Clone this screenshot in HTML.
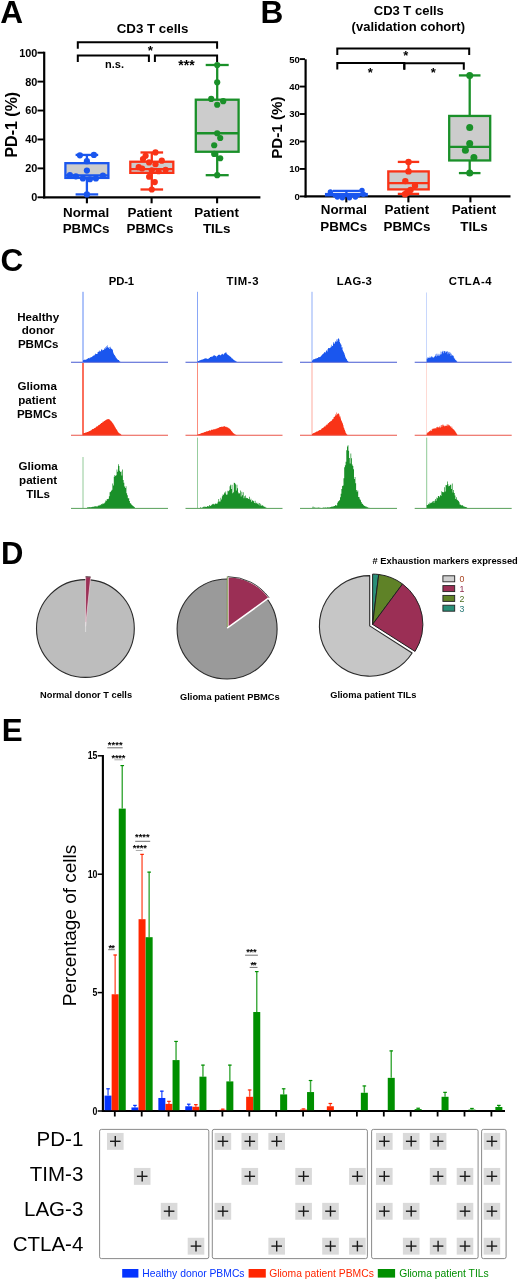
<!DOCTYPE html>
<html lang="en"><head><meta charset="utf-8"><title>Figure</title>
<style>
html,body{margin:0;padding:0;background:#fff;}
body{width:518px;height:1280px;overflow:hidden;font-family:"Liberation Sans",Arial,Helvetica,sans-serif;}
svg{display:block;}
svg text{font-family:"Liberation Sans",Arial,Helvetica,sans-serif;}
</style></head><body>
<svg width="518" height="1280" viewBox="0 0 518 1280">
<rect width="518" height="1280" fill="#fff"/>
<text x="11.60" y="23.00" font-size="31.6" font-weight="bold" text-anchor="middle" fill="#000" >A</text>
<line x1="44.20" y1="51.70" x2="44.20" y2="198.40" stroke="#000" stroke-width="2.2" />
<line x1="43.10" y1="197.30" x2="260.40" y2="197.30" stroke="#000" stroke-width="2.2" />
<line x1="37.50" y1="197.30" x2="44.00" y2="197.30" stroke="#000" stroke-width="1.9" />
<text x="37.30" y="201.20" font-size="10.9" font-weight="bold" text-anchor="end" fill="#000" >0</text>
<line x1="37.50" y1="168.38" x2="44.00" y2="168.38" stroke="#000" stroke-width="1.9" />
<text x="37.30" y="172.28" font-size="10.9" font-weight="bold" text-anchor="end" fill="#000" >20</text>
<line x1="37.50" y1="139.46" x2="44.00" y2="139.46" stroke="#000" stroke-width="1.9" />
<text x="37.30" y="143.36" font-size="10.9" font-weight="bold" text-anchor="end" fill="#000" >40</text>
<line x1="37.50" y1="110.54" x2="44.00" y2="110.54" stroke="#000" stroke-width="1.9" />
<text x="37.30" y="114.44" font-size="10.9" font-weight="bold" text-anchor="end" fill="#000" >60</text>
<line x1="37.50" y1="81.62" x2="44.00" y2="81.62" stroke="#000" stroke-width="1.9" />
<text x="37.30" y="85.52" font-size="10.9" font-weight="bold" text-anchor="end" fill="#000" >80</text>
<line x1="37.50" y1="52.70" x2="44.00" y2="52.70" stroke="#000" stroke-width="1.9" />
<text x="37.30" y="56.60" font-size="10.9" font-weight="bold" text-anchor="end" fill="#000" >100</text>
<line x1="86.90" y1="197.30" x2="86.90" y2="203.30" stroke="#000" stroke-width="2.1" />
<line x1="151.60" y1="197.30" x2="151.60" y2="203.30" stroke="#000" stroke-width="2.1" />
<line x1="217.10" y1="197.30" x2="217.10" y2="203.30" stroke="#000" stroke-width="2.1" />
<text x="152.60" y="33.00" font-size="13.3" font-weight="bold" text-anchor="middle" fill="#000" >CD3 T cells</text>
<text transform="translate(17.4,124.7) rotate(-90)" font-size="16" font-weight="bold" text-anchor="middle">PD-1 (%)</text>
<text x="86.10" y="217.00" font-size="13.4" font-weight="bold" text-anchor="middle" fill="#000" >Normal</text>
<text x="86.10" y="232.80" font-size="13.4" font-weight="bold" text-anchor="middle" fill="#000" >PBMCs</text>
<text x="149.90" y="217.00" font-size="13.4" font-weight="bold" text-anchor="middle" fill="#000" >Patient</text>
<text x="149.90" y="232.80" font-size="13.4" font-weight="bold" text-anchor="middle" fill="#000" >PBMCs</text>
<text x="216.70" y="217.00" font-size="13.4" font-weight="bold" text-anchor="middle" fill="#000" >Patient</text>
<text x="216.70" y="232.80" font-size="13.4" font-weight="bold" text-anchor="middle" fill="#000" >TILs</text>
<path d="M77.80 48.70V42.20H217.10V48.70" fill="none" stroke="#000" stroke-width="2"/>
<path d="M77.80 62.10V55.60H148.90V62.10" fill="none" stroke="#000" stroke-width="2"/>
<path d="M154.90 62.10V55.60H217.10V62.10" fill="none" stroke="#000" stroke-width="2"/>
<text x="150.50" y="54.50" font-size="13.5" font-weight="bold" text-anchor="middle" fill="#000" >*</text>
<text x="114.50" y="67.50" font-size="11" font-weight="bold" text-anchor="middle" fill="#000" >n.s.</text>
<text x="186.50" y="70.00" font-size="14" font-weight="bold" text-anchor="middle" fill="#000" >***</text>
<line x1="86.90" y1="154.93" x2="86.90" y2="163.17" stroke="#1a56ee" stroke-width="2.3" />
<line x1="86.90" y1="177.92" x2="86.90" y2="194.41" stroke="#1a56ee" stroke-width="2.3" />
<line x1="75.60" y1="154.93" x2="98.20" y2="154.93" stroke="#1a56ee" stroke-width="2.3" />
<line x1="75.60" y1="194.41" x2="98.20" y2="194.41" stroke="#1a56ee" stroke-width="2.3" />
<rect x="65.40" y="163.17" width="43.00" height="14.75" fill="#cccccc" stroke="#1a56ee" stroke-width="2.3" />
<line x1="65.40" y1="175.32" x2="108.40" y2="175.32" stroke="#1a56ee" stroke-width="2.3" />
<circle cx="79.90" cy="155.37" r="3.1" fill="#1a56ee"/>
<circle cx="93.90" cy="154.93" r="3.1" fill="#1a56ee"/>
<circle cx="86.90" cy="161.15" r="3.1" fill="#1a56ee"/>
<circle cx="86.90" cy="170.55" r="3.1" fill="#1a56ee"/>
<circle cx="69.90" cy="175.18" r="3.1" fill="#1a56ee"/>
<circle cx="75.90" cy="176.33" r="3.1" fill="#1a56ee"/>
<circle cx="82.90" cy="178.50" r="3.1" fill="#1a56ee"/>
<circle cx="89.90" cy="179.23" r="3.1" fill="#1a56ee"/>
<circle cx="95.90" cy="178.50" r="3.1" fill="#1a56ee"/>
<circle cx="102.90" cy="175.61" r="3.1" fill="#1a56ee"/>
<circle cx="86.90" cy="194.41" r="3.1" fill="#1a56ee"/>
<line x1="151.80" y1="152.47" x2="151.80" y2="161.73" stroke="#f93317" stroke-width="2.3" />
<line x1="151.80" y1="172.86" x2="151.80" y2="189.49" stroke="#f93317" stroke-width="2.3" />
<line x1="140.50" y1="152.47" x2="163.10" y2="152.47" stroke="#f93317" stroke-width="2.3" />
<line x1="140.50" y1="189.49" x2="163.10" y2="189.49" stroke="#f93317" stroke-width="2.3" />
<rect x="130.30" y="161.73" width="43.00" height="11.13" fill="#cccccc" stroke="#f93317" stroke-width="2.3" />
<line x1="130.30" y1="169.10" x2="173.30" y2="169.10" stroke="#f93317" stroke-width="2.3" />
<circle cx="155.50" cy="152.47" r="3.1" fill="#f93317"/>
<circle cx="145.60" cy="155.80" r="3.1" fill="#f93317"/>
<circle cx="143.00" cy="158.98" r="3.1" fill="#f93317"/>
<circle cx="161.80" cy="160.72" r="3.1" fill="#f93317"/>
<circle cx="149.10" cy="162.45" r="3.1" fill="#f93317"/>
<circle cx="155.50" cy="164.19" r="3.1" fill="#f93317"/>
<circle cx="138.70" cy="167.22" r="3.1" fill="#f93317"/>
<circle cx="142.10" cy="168.52" r="3.1" fill="#f93317"/>
<circle cx="151.80" cy="170.26" r="3.1" fill="#f93317"/>
<circle cx="158.60" cy="171.27" r="3.1" fill="#f93317"/>
<circle cx="165.60" cy="169.83" r="3.1" fill="#f93317"/>
<circle cx="149.10" cy="176.77" r="3.1" fill="#f93317"/>
<circle cx="154.80" cy="182.12" r="3.1" fill="#f93317"/>
<circle cx="151.80" cy="189.49" r="3.1" fill="#f93317"/>
<line x1="217.20" y1="64.99" x2="217.20" y2="99.70" stroke="#1a9029" stroke-width="2.3" />
<line x1="217.20" y1="151.75" x2="217.20" y2="175.18" stroke="#1a9029" stroke-width="2.3" />
<line x1="205.70" y1="64.99" x2="228.70" y2="64.99" stroke="#1a9029" stroke-width="2.3" />
<line x1="205.70" y1="175.18" x2="228.70" y2="175.18" stroke="#1a9029" stroke-width="2.3" />
<rect x="195.80" y="99.70" width="42.80" height="52.06" fill="#cccccc" stroke="#1a9029" stroke-width="2.3" />
<line x1="195.80" y1="133.24" x2="238.60" y2="133.24" stroke="#1a9029" stroke-width="2.3" />
<circle cx="217.20" cy="64.99" r="3.1" fill="#1a9029"/>
<circle cx="217.20" cy="82.34" r="3.1" fill="#1a9029"/>
<circle cx="211.20" cy="98.97" r="3.1" fill="#1a9029"/>
<circle cx="223.20" cy="101.14" r="3.1" fill="#1a9029"/>
<circle cx="217.20" cy="104.76" r="3.1" fill="#1a9029"/>
<circle cx="217.20" cy="133.24" r="3.1" fill="#1a9029"/>
<circle cx="220.20" cy="138.01" r="3.1" fill="#1a9029"/>
<circle cx="214.20" cy="145.24" r="3.1" fill="#1a9029"/>
<circle cx="214.20" cy="153.92" r="3.1" fill="#1a9029"/>
<circle cx="220.20" cy="158.26" r="3.1" fill="#1a9029"/>
<circle cx="217.20" cy="175.18" r="3.1" fill="#1a9029"/>
<text x="271.90" y="23.00" font-size="31.6" font-weight="bold" text-anchor="middle" fill="#000" >B</text>
<line x1="305.60" y1="59.30" x2="305.60" y2="197.50" stroke="#000" stroke-width="2.2" />
<line x1="304.50" y1="196.40" x2="510.50" y2="196.40" stroke="#000" stroke-width="2.2" />
<line x1="299.70" y1="196.40" x2="305.00" y2="196.40" stroke="#000" stroke-width="1.9" />
<text x="299.80" y="199.80" font-size="9.5" font-weight="bold" text-anchor="end" fill="#000" >0</text>
<line x1="299.70" y1="168.94" x2="305.00" y2="168.94" stroke="#000" stroke-width="1.9" />
<text x="299.80" y="172.34" font-size="9.5" font-weight="bold" text-anchor="end" fill="#000" >10</text>
<line x1="299.70" y1="141.48" x2="305.00" y2="141.48" stroke="#000" stroke-width="1.9" />
<text x="299.80" y="144.88" font-size="9.5" font-weight="bold" text-anchor="end" fill="#000" >20</text>
<line x1="299.70" y1="114.02" x2="305.00" y2="114.02" stroke="#000" stroke-width="1.9" />
<text x="299.80" y="117.42" font-size="9.5" font-weight="bold" text-anchor="end" fill="#000" >30</text>
<line x1="299.70" y1="86.56" x2="305.00" y2="86.56" stroke="#000" stroke-width="1.9" />
<text x="299.80" y="89.96" font-size="9.5" font-weight="bold" text-anchor="end" fill="#000" >40</text>
<line x1="299.70" y1="59.10" x2="305.00" y2="59.10" stroke="#000" stroke-width="1.9" />
<text x="299.80" y="62.50" font-size="9.5" font-weight="bold" text-anchor="end" fill="#000" >50</text>
<line x1="346.30" y1="196.40" x2="346.30" y2="202.40" stroke="#000" stroke-width="2.1" />
<line x1="408.40" y1="196.40" x2="408.40" y2="202.40" stroke="#000" stroke-width="2.1" />
<line x1="470.40" y1="196.40" x2="470.40" y2="202.40" stroke="#000" stroke-width="2.1" />
<text x="408.80" y="15.00" font-size="13" font-weight="bold" text-anchor="middle" fill="#000" >CD3 T cells</text>
<text x="408.30" y="31.10" font-size="13" font-weight="bold" text-anchor="middle" fill="#000" >(validation cohort)</text>
<text transform="translate(282.2,127.6) rotate(-90)" font-size="15.2" font-weight="bold" text-anchor="middle">PD-1 (%)</text>
<text x="343.80" y="214.20" font-size="13.4" font-weight="bold" text-anchor="middle" fill="#000" >Normal</text>
<text x="343.80" y="230.80" font-size="13.4" font-weight="bold" text-anchor="middle" fill="#000" >PBMCs</text>
<text x="406.90" y="214.20" font-size="13.4" font-weight="bold" text-anchor="middle" fill="#000" >Patient</text>
<text x="406.90" y="230.80" font-size="13.4" font-weight="bold" text-anchor="middle" fill="#000" >PBMCs</text>
<text x="474.00" y="214.20" font-size="13.4" font-weight="bold" text-anchor="middle" fill="#000" >Patient</text>
<text x="474.00" y="230.80" font-size="13.4" font-weight="bold" text-anchor="middle" fill="#000" >TILs</text>
<path d="M337.30 55.10V48.60H469.20V55.10" fill="none" stroke="#000" stroke-width="2"/>
<path d="M337.30 69.50V63.00H404.30V69.50" fill="none" stroke="#000" stroke-width="2"/>
<path d="M404.30 69.80V63.30H463.80V69.80" fill="none" stroke="#000" stroke-width="2"/>
<text x="405.70" y="60.30" font-size="13" font-weight="bold" text-anchor="middle" fill="#000" >*</text>
<text x="370.30" y="76.80" font-size="13" font-weight="bold" text-anchor="middle" fill="#000" >*</text>
<text x="433.20" y="76.50" font-size="13" font-weight="bold" text-anchor="middle" fill="#000" >*</text>
<line x1="346.40" y1="190.91" x2="346.40" y2="194.07" stroke="#1a56ee" stroke-width="2.3" />
<line x1="346.40" y1="195.30" x2="346.40" y2="196.13" stroke="#1a56ee" stroke-width="2.3" />
<line x1="332.90" y1="190.91" x2="359.90" y2="190.91" stroke="#1a56ee" stroke-width="2.3" />
<line x1="332.90" y1="196.13" x2="359.90" y2="196.13" stroke="#1a56ee" stroke-width="2.3" />
<rect x="326.10" y="194.07" width="40.60" height="1.24" fill="#cccccc" stroke="#1a56ee" stroke-width="2.3" />
<line x1="326.10" y1="194.75" x2="366.70" y2="194.75" stroke="#1a56ee" stroke-width="2.3" />
<circle cx="330.40" cy="192.01" r="2.7" fill="#1a56ee"/>
<circle cx="337.40" cy="196.95" r="2.7" fill="#1a56ee"/>
<circle cx="342.40" cy="197.77" r="2.7" fill="#1a56ee"/>
<circle cx="349.40" cy="197.77" r="2.7" fill="#1a56ee"/>
<circle cx="355.40" cy="196.95" r="2.7" fill="#1a56ee"/>
<circle cx="362.00" cy="190.36" r="2.7" fill="#1a56ee"/>
<circle cx="363.40" cy="194.20" r="2.7" fill="#1a56ee"/>
<line x1="408.50" y1="161.91" x2="408.50" y2="171.41" stroke="#f93317" stroke-width="2.3" />
<line x1="408.50" y1="189.40" x2="408.50" y2="193.90" stroke="#f93317" stroke-width="2.3" />
<line x1="397.80" y1="161.91" x2="419.20" y2="161.91" stroke="#f93317" stroke-width="2.3" />
<line x1="397.80" y1="193.90" x2="419.20" y2="193.90" stroke="#f93317" stroke-width="2.3" />
<rect x="388.30" y="171.41" width="40.40" height="17.99" fill="#cccccc" stroke="#f93317" stroke-width="2.3" />
<line x1="388.30" y1="183.11" x2="428.70" y2="183.11" stroke="#f93317" stroke-width="2.3" />
<circle cx="408.50" cy="161.91" r="3.2" fill="#f93317"/>
<circle cx="408.50" cy="171.41" r="3.2" fill="#f93317"/>
<circle cx="405.30" cy="181.10" r="3.2" fill="#f93317"/>
<circle cx="415.00" cy="185.80" r="3.2" fill="#f93317"/>
<circle cx="410.50" cy="189.89" r="3.2" fill="#f93317"/>
<circle cx="406.80" cy="192.99" r="3.2" fill="#f93317"/>
<circle cx="405.00" cy="194.20" r="3.2" fill="#f93317"/>
<line x1="469.70" y1="75.41" x2="469.70" y2="115.94" stroke="#1a9029" stroke-width="2.3" />
<line x1="469.70" y1="160.45" x2="469.70" y2="173.09" stroke="#1a9029" stroke-width="2.3" />
<line x1="458.90" y1="75.41" x2="480.50" y2="75.41" stroke="#1a9029" stroke-width="2.3" />
<line x1="458.90" y1="173.09" x2="480.50" y2="173.09" stroke="#1a9029" stroke-width="2.3" />
<rect x="449.20" y="115.94" width="41.00" height="44.51" fill="#cccccc" stroke="#1a9029" stroke-width="2.3" />
<line x1="449.20" y1="146.81" x2="490.20" y2="146.81" stroke="#1a9029" stroke-width="2.3" />
<circle cx="469.70" cy="75.41" r="3.5" fill="#1a9029"/>
<circle cx="469.70" cy="127.61" r="3.5" fill="#1a9029"/>
<circle cx="469.70" cy="143.40" r="3.5" fill="#1a9029"/>
<circle cx="465.40" cy="150.27" r="3.5" fill="#1a9029"/>
<circle cx="473.90" cy="157.60" r="3.5" fill="#1a9029"/>
<circle cx="469.70" cy="173.09" r="3.5" fill="#1a9029"/>
<text x="11.95" y="270.70" font-size="31.5" font-weight="bold" text-anchor="middle" fill="#000" >C</text>
<text x="121.50" y="285.10" font-size="11.3" font-weight="bold" text-anchor="middle" fill="#000" textLength="25.3" lengthAdjust="spacing">PD-1</text>
<text x="242.50" y="285.10" font-size="11.3" font-weight="bold" text-anchor="middle" fill="#000" textLength="32" lengthAdjust="spacing">TIM-3</text>
<text x="354.30" y="285.10" font-size="11.3" font-weight="bold" text-anchor="middle" fill="#000" textLength="35" lengthAdjust="spacing">LAG-3</text>
<text x="470.10" y="285.10" font-size="11.3" font-weight="bold" text-anchor="middle" fill="#000" textLength="42.7" lengthAdjust="spacing">CTLA-4</text>
<text x="38.20" y="320.50" font-size="11.6" font-weight="bold" text-anchor="middle" fill="#000" >Healthy</text>
<text x="38.20" y="334.40" font-size="11.6" font-weight="bold" text-anchor="middle" fill="#000" >donor</text>
<text x="38.20" y="347.90" font-size="11.6" font-weight="bold" text-anchor="middle" fill="#000" >PBMCs</text>
<text x="37.20" y="390.00" font-size="11.6" font-weight="bold" text-anchor="middle" fill="#000" >Glioma</text>
<text x="37.20" y="403.90" font-size="11.6" font-weight="bold" text-anchor="middle" fill="#000" >patient</text>
<text x="37.20" y="417.50" font-size="11.6" font-weight="bold" text-anchor="middle" fill="#000" >PBMCs</text>
<text x="38.10" y="470.30" font-size="11.6" font-weight="bold" text-anchor="middle" fill="#000" >Glioma</text>
<text x="38.10" y="484.00" font-size="11.6" font-weight="bold" text-anchor="middle" fill="#000" >patient</text>
<text x="38.10" y="498.10" font-size="11.6" font-weight="bold" text-anchor="middle" fill="#000" >TILs</text>
<line x1="83.00" y1="291.80" x2="83.00" y2="362.00" stroke="#1a56ee" stroke-width="1.0" opacity="0.7"/>
<path d="M83.00 362.00L83.00 360.18L83.50 360.18L83.50 359.95L84.00 359.95L84.00 359.78L84.50 359.78L84.50 359.83L85.00 359.83L85.00 359.75L85.50 359.75L85.50 359.73L86.00 359.73L86.00 359.19L86.50 359.19L86.50 359.43L87.00 359.43L87.00 358.78L87.50 358.78L87.50 358.73L88.00 358.73L88.00 358.31L88.50 358.31L88.50 358.05L89.00 358.05L89.00 358.41L89.50 358.41L89.50 357.81L90.00 357.81L90.00 357.76L90.50 357.76L90.50 357.16L91.00 357.16L91.00 357.09L91.50 357.09L91.50 357.31L92.00 357.31L92.00 356.32L92.50 356.32L92.50 356.44L93.00 356.44L93.00 356.12L93.50 356.12L93.50 355.20L94.00 355.20L94.00 355.61L94.50 355.61L94.50 354.77L95.00 354.77L95.00 354.30L95.50 354.30L95.50 353.59L96.00 353.59L96.00 353.91L96.50 353.91L96.50 354.10L97.00 354.10L97.00 353.91L97.50 353.91L97.50 352.27L98.00 352.27L98.00 351.77L98.50 351.77L98.50 351.65L99.00 351.65L99.00 351.56L99.50 351.56L99.50 350.49L100.00 350.49L100.00 351.00L100.50 351.00L100.50 351.58L101.00 351.58L101.00 349.80L101.50 349.80L101.50 349.24L102.00 349.24L102.00 349.83L102.50 349.83L102.50 350.48L103.00 350.48L103.00 349.89L103.50 349.89L103.50 349.65L104.00 349.65L104.00 349.30L104.50 349.30L104.50 348.04L105.00 348.04L105.00 348.73L105.50 348.73L105.50 347.07L106.00 347.07L106.00 346.10L106.50 346.10L106.50 347.69L107.00 347.69L107.00 347.14L107.50 347.14L107.50 345.37L108.00 345.37L108.00 347.59L108.50 347.59L108.50 347.65L109.00 347.65L109.00 346.98L109.50 346.98L109.50 348.96L110.00 348.96L110.00 348.18L110.50 348.18L110.50 346.85L111.00 346.85L111.00 348.42L111.50 348.42L111.50 349.12L112.00 349.12L112.00 349.31L112.50 349.31L112.50 350.35L113.00 350.35L113.00 352.41L113.50 352.41L113.50 353.75L114.00 353.75L114.00 354.84L114.50 354.84L114.50 355.36L115.00 355.36L115.00 356.01L115.50 356.01L115.50 357.16L116.00 357.16L116.00 357.75L116.50 357.75L116.50 358.41L117.00 358.41L117.00 359.04L117.50 359.04L117.50 359.63L118.00 359.63L118.00 360.08L118.50 360.08L118.50 360.08L119.00 360.08L119.00 360.81L119.50 360.81L119.50 361.44L120.00 361.44L120.00 361.78L120.50 361.78L120.50 362.00Z" fill="#1a56ee"/>
<line x1="71.00" y1="362.20" x2="168.00" y2="362.20" stroke="#4559d2" stroke-width="1.15" />
<line x1="83.00" y1="363.00" x2="83.00" y2="435.30" stroke="#f93317" stroke-width="1.4" opacity="1"/>
<path d="M83.00 435.30L83.00 433.29L83.50 433.29L83.50 433.17L84.00 433.17L84.00 433.03L84.50 433.03L84.50 432.89L85.00 432.89L85.00 432.65L85.50 432.65L85.50 432.47L86.00 432.47L86.00 432.45L86.50 432.45L86.50 432.28L87.00 432.28L87.00 432.07L87.50 432.07L87.50 432.01L88.00 432.01L88.00 431.69L88.50 431.69L88.50 431.40L89.00 431.40L89.00 431.13L89.50 431.13L89.50 431.01L90.00 431.01L90.00 430.74L90.50 430.74L90.50 430.53L91.00 430.53L91.00 430.14L91.50 430.14L91.50 429.65L92.00 429.65L92.00 429.32L92.50 429.32L92.50 429.08L93.00 429.08L93.00 429.08L93.50 429.08L93.50 428.81L94.00 428.81L94.00 428.28L94.50 428.28L94.50 427.94L95.00 427.94L95.00 427.70L95.50 427.70L95.50 427.61L96.00 427.61L96.00 426.82L96.50 426.82L96.50 426.55L97.00 426.55L97.00 426.45L97.50 426.45L97.50 425.99L98.00 425.99L98.00 425.28L98.50 425.28L98.50 425.19L99.00 425.19L99.00 424.69L99.50 424.69L99.50 424.70L100.00 424.70L100.00 423.75L100.50 423.75L100.50 423.89L101.00 423.89L101.00 422.94L101.50 422.94L101.50 423.03L102.00 423.03L102.00 422.87L102.50 422.87L102.50 421.77L103.00 421.77L103.00 421.72L103.50 421.72L103.50 421.42L104.00 421.42L104.00 420.77L104.50 420.77L104.50 420.88L105.00 420.88L105.00 420.49L105.50 420.49L105.50 420.11L106.00 420.11L106.00 419.81L106.50 419.81L106.50 419.56L107.00 419.56L107.00 419.21L107.50 419.21L107.50 419.29L108.00 419.29L108.00 419.16L108.50 419.16L108.50 419.11L109.00 419.11L109.00 419.09L109.50 419.09L109.50 419.99L110.00 419.99L110.00 420.40L110.50 420.40L110.50 420.45L111.00 420.45L111.00 421.35L111.50 421.35L111.50 421.68L112.00 421.68L112.00 422.60L112.50 422.60L112.50 423.34L113.00 423.34L113.00 423.78L113.50 423.78L113.50 424.74L114.00 424.74L114.00 425.40L114.50 425.40L114.50 426.41L115.00 426.41L115.00 427.28L115.50 427.28L115.50 428.15L116.00 428.15L116.00 428.93L116.50 428.93L116.50 429.70L117.00 429.70L117.00 430.53L117.50 430.53L117.50 431.41L118.00 431.41L118.00 432.27L118.50 432.27L118.50 432.75L119.00 432.75L119.00 433.15L119.50 433.15L119.50 433.49L120.00 433.49L120.00 433.78L120.50 433.78L120.50 434.23L121.00 434.23L121.00 434.64L121.50 434.64L121.50 434.95L122.00 434.95L122.00 435.30Z" fill="#f93317"/>
<line x1="71.00" y1="435.30" x2="168.00" y2="435.30" stroke="#ea5548" stroke-width="1.1" />
<line x1="83.00" y1="457.00" x2="83.00" y2="508.00" stroke="#1a9029" stroke-width="0.8" opacity="0.6"/>
<path d="M87.20 508.00L87.20 507.30L87.90 507.30L87.90 507.43L88.60 507.43L88.60 507.00L89.30 507.00L89.30 507.33L90.00 507.33L90.00 507.19L90.70 507.19L90.70 507.21L91.40 507.21L91.40 507.08L92.10 507.08L92.10 506.82L92.80 506.82L92.80 507.01L93.50 507.01L93.50 506.54L94.20 506.54L94.20 506.47L94.90 506.47L94.90 506.00L95.60 506.00L95.60 506.67L96.30 506.67L96.30 506.34L97.00 506.34L97.00 506.46L97.70 506.46L97.70 505.84L98.40 505.84L98.40 505.57L99.10 505.57L99.10 505.42L99.80 505.42L99.80 504.79L100.50 504.79L100.50 505.32L101.20 505.32L101.20 504.05L101.90 504.05L101.90 504.25L102.60 504.25L102.60 503.16L103.30 503.16L103.30 503.65L104.00 503.65L104.00 503.37L104.70 503.37L104.70 502.14L105.40 502.14L105.40 500.55L106.10 500.55L106.10 500.72L106.80 500.72L106.80 498.89L107.50 498.89L107.50 499.33L108.20 499.33L108.20 498.63L108.90 498.63L108.90 496.15L109.60 496.15L109.60 492.18L110.30 492.18L110.30 491.66L111.00 491.66L111.00 490.83L111.70 490.83L111.70 489.65L112.40 489.65L112.40 483.47L113.10 483.47L113.10 485.60L113.80 485.60L113.80 476.74L114.50 476.74L114.50 475.02L115.20 475.02L115.20 475.94L115.90 475.94L115.90 475.33L116.60 475.33L116.60 469.57L117.30 469.57L117.30 471.72L118.00 471.72L118.00 464.25L118.70 464.25L118.70 466.02L119.40 466.02L119.40 470.75L120.10 470.75L120.10 471.88L120.80 471.88L120.80 471.38L121.50 471.38L121.50 475.61L122.20 475.61L122.20 469.62L122.90 469.62L122.90 479.90L123.60 479.90L123.60 482.66L124.30 482.66L124.30 486.44L125.00 486.44L125.00 487.89L125.70 487.89L125.70 486.21L126.40 486.21L126.40 493.22L127.10 493.22L127.10 495.18L127.80 495.18L127.80 498.26L128.50 498.26L128.50 498.27L129.20 498.27L129.20 500.97L129.90 500.97L129.90 503.05L130.60 503.05L130.60 503.68L131.30 503.68L131.30 504.84L132.00 504.84L132.00 505.32L132.70 505.32L132.70 505.93L133.40 505.93L133.40 506.51L134.10 506.51L134.10 507.01L134.80 507.01L134.80 507.94L135.50 507.94L135.50 508.00Z" fill="#1a9029"/>
<line x1="71.00" y1="508.40" x2="168.00" y2="508.40" stroke="#58a05a" stroke-width="1.0" />
<line x1="197.50" y1="291.80" x2="197.50" y2="362.00" stroke="#1a56ee" stroke-width="0.8" opacity="0.65"/>
<path d="M197.50 362.00L197.50 361.43L198.00 361.43L198.00 361.10L198.50 361.10L198.50 360.90L199.00 360.90L199.00 360.60L199.50 360.60L199.50 360.39L200.00 360.39L200.00 360.37L200.50 360.37L200.50 360.05L201.00 360.05L201.00 359.78L201.50 359.78L201.50 359.63L202.00 359.63L202.00 359.45L202.50 359.45L202.50 359.54L203.00 359.54L203.00 359.34L203.50 359.34L203.50 359.10L204.00 359.10L204.00 358.80L204.50 358.80L204.50 358.59L205.00 358.59L205.00 358.61L205.50 358.61L205.50 358.16L206.00 358.16L206.00 358.41L206.50 358.41L206.50 358.59L207.00 358.59L207.00 358.68L207.50 358.68L207.50 359.08L208.00 359.08L208.00 358.89L208.50 358.89L208.50 358.31L209.00 358.31L209.00 358.12L209.50 358.12L209.50 357.65L210.00 357.65L210.00 357.09L210.50 357.09L210.50 356.98L211.00 356.98L211.00 357.07L211.50 357.07L211.50 356.49L212.00 356.49L212.00 356.47L212.50 356.47L212.50 356.59L213.00 356.59L213.00 355.76L213.50 355.76L213.50 355.49L214.00 355.49L214.00 355.23L214.50 355.23L214.50 355.50L215.00 355.50L215.00 355.67L215.50 355.67L215.50 355.99L216.00 355.99L216.00 357.20L216.50 357.20L216.50 356.05L217.00 356.05L217.00 355.89L217.50 355.89L217.50 355.42L218.00 355.42L218.00 354.96L218.50 354.96L218.50 354.85L219.00 354.85L219.00 354.54L219.50 354.54L219.50 354.91L220.00 354.91L220.00 355.16L220.50 355.16L220.50 355.15L221.00 355.15L221.00 354.60L221.50 354.60L221.50 354.48L222.00 354.48L222.00 353.86L222.50 353.86L222.50 354.33L223.00 354.33L223.00 354.25L223.50 354.25L223.50 354.74L224.00 354.74L224.00 353.79L224.50 353.79L224.50 352.97L225.00 352.97L225.00 352.46L225.50 352.46L225.50 352.83L226.00 352.83L226.00 352.54L226.50 352.54L226.50 353.67L227.00 353.67L227.00 354.24L227.50 354.24L227.50 354.68L228.00 354.68L228.00 354.96L228.50 354.96L228.50 355.58L229.00 355.58L229.00 355.86L229.50 355.86L229.50 356.29L230.00 356.29L230.00 356.47L230.50 356.47L230.50 357.09L231.00 357.09L231.00 357.49L231.50 357.49L231.50 358.19L232.00 358.19L232.00 358.52L232.50 358.52L232.50 358.87L233.00 358.87L233.00 359.53L233.50 359.53L233.50 359.71L234.00 359.71L234.00 360.18L234.50 360.18L234.50 360.51L235.00 360.51L235.00 360.82L235.50 360.82L235.50 361.17L236.00 361.17L236.00 361.47L236.50 361.47L236.50 361.83L237.00 361.83L237.00 362.00Z" fill="#1a56ee"/>
<line x1="185.50" y1="362.20" x2="282.50" y2="362.20" stroke="#4559d2" stroke-width="1.15" />
<line x1="197.50" y1="363.00" x2="197.50" y2="435.30" stroke="#f93317" stroke-width="0.7" opacity="0.8"/>
<path d="M197.50 435.30L197.50 434.45L198.00 434.45L198.00 434.38L198.50 434.38L198.50 434.01L199.00 434.01L199.00 434.07L199.50 434.07L199.50 433.95L200.00 433.95L200.00 433.76L200.50 433.76L200.50 433.58L201.00 433.58L201.00 433.22L201.50 433.22L201.50 433.09L202.00 433.09L202.00 432.99L202.50 432.99L202.50 432.87L203.00 432.87L203.00 432.82L203.50 432.82L203.50 432.38L204.00 432.38L204.00 432.27L204.50 432.27L204.50 432.05L205.00 432.05L205.00 432.11L205.50 432.11L205.50 431.85L206.00 431.85L206.00 431.37L206.50 431.37L206.50 431.39L207.00 431.39L207.00 431.48L207.50 431.48L207.50 430.94L208.00 430.94L208.00 431.02L208.50 431.02L208.50 430.78L209.00 430.78L209.00 430.40L209.50 430.40L209.50 430.28L210.00 430.28L210.00 430.65L210.50 430.65L210.50 430.15L211.00 430.15L211.00 429.73L211.50 429.73L211.50 429.75L212.00 429.75L212.00 429.77L212.50 429.77L212.50 429.86L213.00 429.86L213.00 429.56L213.50 429.56L213.50 429.23L214.00 429.23L214.00 429.50L214.50 429.50L214.50 428.91L215.00 428.91L215.00 429.30L215.50 429.30L215.50 428.77L216.00 428.77L216.00 428.82L216.50 428.82L216.50 428.56L217.00 428.56L217.00 428.60L217.50 428.60L217.50 427.89L218.00 427.89L218.00 427.72L218.50 427.72L218.50 428.09L219.00 428.09L219.00 427.08L219.50 427.08L219.50 427.58L220.00 427.58L220.00 427.02L220.50 427.02L220.50 426.93L221.00 426.93L221.00 426.52L221.50 426.52L221.50 427.11L222.00 427.11L222.00 426.89L222.50 426.89L222.50 426.55L223.00 426.55L223.00 426.30L223.50 426.30L223.50 426.67L224.00 426.67L224.00 426.14L224.50 426.14L224.50 426.28L225.00 426.28L225.00 426.77L225.50 426.77L225.50 426.63L226.00 426.63L226.00 426.78L226.50 426.78L226.50 427.23L227.00 427.23L227.00 426.90L227.50 426.90L227.50 427.72L228.00 427.72L228.00 427.76L228.50 427.76L228.50 428.21L229.00 428.21L229.00 428.77L229.50 428.77L229.50 428.59L230.00 428.59L230.00 429.29L230.50 429.29L230.50 429.90L231.00 429.90L231.00 430.81L231.50 430.81L231.50 431.27L232.00 431.27L232.00 431.75L232.50 431.75L232.50 432.38L233.00 432.38L233.00 432.99L233.50 432.99L233.50 433.38L234.00 433.38L234.00 433.79L234.50 433.79L234.50 434.30L235.00 434.30L235.00 434.45L235.50 434.45L235.50 434.69L236.00 434.69L236.00 434.93L236.50 434.93L236.50 435.02L237.00 435.02L237.00 435.30L237.50 435.30L237.50 435.30Z" fill="#f93317"/>
<line x1="185.50" y1="435.30" x2="282.50" y2="435.30" stroke="#ea5548" stroke-width="1.1" />
<line x1="197.50" y1="437.60" x2="197.50" y2="508.00" stroke="#1a9029" stroke-width="0.7" opacity="0.65"/>
<path d="M199.50 508.00L199.50 508.00L200.20 508.00L200.20 507.35L200.90 507.35L200.90 507.80L201.60 507.80L201.60 507.90L202.30 507.90L202.30 507.32L203.00 507.32L203.00 506.74L203.70 506.74L203.70 507.34L204.40 507.34L204.40 506.62L205.10 506.62L205.10 506.82L205.80 506.82L205.80 507.06L206.50 507.06L206.50 506.79L207.20 506.79L207.20 506.12L207.90 506.12L207.90 506.37L208.60 506.37L208.60 506.39L209.30 506.39L209.30 504.97L210.00 504.97L210.00 505.96L210.70 505.96L210.70 505.46L211.40 505.46L211.40 504.73L212.10 504.73L212.10 504.16L212.80 504.16L212.80 503.81L213.50 503.81L213.50 504.30L214.20 504.30L214.20 504.59L214.90 504.59L214.90 503.40L215.60 503.40L215.60 503.68L216.30 503.68L216.30 503.64L217.00 503.64L217.00 503.41L217.70 503.41L217.70 501.63L218.40 501.63L218.40 499.05L219.10 499.05L219.10 501.60L219.80 501.60L219.80 501.40L220.50 501.40L220.50 497.84L221.20 497.84L221.20 499.42L221.90 499.42L221.90 496.29L222.60 496.29L222.60 494.48L223.30 494.48L223.30 494.68L224.00 494.68L224.00 492.40L224.70 492.40L224.70 493.43L225.40 493.43L225.40 491.61L226.10 491.61L226.10 494.80L226.80 494.80L226.80 494.51L227.50 494.51L227.50 490.76L228.20 490.76L228.20 491.20L228.90 491.20L228.90 490.20L229.60 490.20L229.60 486.36L230.30 486.36L230.30 484.71L231.00 484.71L231.00 488.89L231.70 488.89L231.70 484.84L232.40 484.84L232.40 493.21L233.10 493.21L233.10 492.27L233.80 492.27L233.80 482.74L234.50 482.74L234.50 483.02L235.20 483.02L235.20 484.16L235.90 484.16L235.90 490.59L236.60 490.59L236.60 484.69L237.30 484.69L237.30 488.21L238.00 488.21L238.00 492.49L238.70 492.49L238.70 493.77L239.40 493.77L239.40 493.00L240.10 493.00L240.10 490.55L240.80 490.55L240.80 496.43L241.50 496.43L241.50 491.87L242.20 491.87L242.20 495.34L242.90 495.34L242.90 492.27L243.60 492.27L243.60 498.34L244.30 498.34L244.30 496.17L245.00 496.17L245.00 495.47L245.70 495.47L245.70 498.32L246.40 498.32L246.40 497.63L247.10 497.63L247.10 498.08L247.80 498.08L247.80 498.80L248.50 498.80L248.50 499.12L249.20 499.12L249.20 496.64L249.90 496.64L249.90 500.08L250.60 500.08L250.60 498.79L251.30 498.79L251.30 501.65L252.00 501.65L252.00 500.29L252.70 500.29L252.70 500.64L253.40 500.64L253.40 501.37L254.10 501.37L254.10 502.95L254.80 502.95L254.80 500.84L255.50 500.84L255.50 503.18L256.20 503.18L256.20 502.79L256.90 502.79L256.90 503.97L257.60 503.97L257.60 502.85L258.30 502.85L258.30 504.57L259.00 504.57L259.00 503.09L259.70 503.09L259.70 505.38L260.40 505.38L260.40 503.84L261.10 503.84L261.10 505.70L261.80 505.70L261.80 505.22L262.50 505.22L262.50 505.48L263.20 505.48L263.20 506.35L263.90 506.35L263.90 506.74L264.60 506.74L264.60 506.81L265.30 506.81L265.30 507.56L266.00 507.56L266.00 507.87L266.70 507.87L266.70 508.00Z" fill="#1a9029"/>
<line x1="185.50" y1="508.40" x2="282.50" y2="508.40" stroke="#58a05a" stroke-width="1.0" />
<line x1="312.00" y1="291.80" x2="312.00" y2="362.00" stroke="#1a56ee" stroke-width="0.7" opacity="0.7"/>
<path d="M312.00 362.00L312.00 360.53L312.50 360.53L312.50 360.17L313.00 360.17L313.00 359.34L313.50 359.34L313.50 359.60L314.00 359.60L314.00 359.18L314.50 359.18L314.50 358.90L315.00 358.90L315.00 358.70L315.50 358.70L315.50 358.56L316.00 358.56L316.00 358.41L316.50 358.41L316.50 358.17L317.00 358.17L317.00 357.99L317.50 357.99L317.50 358.06L318.00 358.06L318.00 357.55L318.50 357.55L318.50 356.88L319.00 356.88L319.00 357.13L319.50 357.13L319.50 356.90L320.00 356.90L320.00 356.82L320.50 356.82L320.50 356.49L321.00 356.49L321.00 355.71L321.50 355.71L321.50 355.13L322.00 355.13L322.00 354.35L322.50 354.35L322.50 354.51L323.00 354.51L323.00 354.01L323.50 354.01L323.50 352.91L324.00 352.91L324.00 352.34L324.50 352.34L324.50 352.17L325.00 352.17L325.00 352.71L325.50 352.71L325.50 351.71L326.00 351.71L326.00 350.64L326.50 350.64L326.50 350.21L327.00 350.21L327.00 351.47L327.50 351.47L327.50 349.31L328.00 349.31L328.00 348.28L328.50 348.28L328.50 347.89L329.00 347.89L329.00 347.88L329.50 347.88L329.50 348.35L330.00 348.35L330.00 346.86L330.50 346.86L330.50 347.88L331.00 347.88L331.00 346.81L331.50 346.81L331.50 344.66L332.00 344.66L332.00 345.95L332.50 345.95L332.50 345.78L333.00 345.78L333.00 343.52L333.50 343.52L333.50 342.10L334.00 342.10L334.00 342.70L334.50 342.70L334.50 344.12L335.00 344.12L335.00 341.91L335.50 341.91L335.50 340.90L336.00 340.90L336.00 339.62L336.50 339.62L336.50 341.77L337.00 341.77L337.00 341.13L337.50 341.13L337.50 339.34L338.00 339.34L338.00 338.38L338.50 338.38L338.50 338.42L339.00 338.42L339.00 339.60L339.50 339.60L339.50 342.12L340.00 342.12L340.00 344.29L340.50 344.29L340.50 343.09L341.00 343.09L341.00 344.68L341.50 344.68L341.50 347.45L342.00 347.45L342.00 347.25L342.50 347.25L342.50 350.24L343.00 350.24L343.00 351.28L343.50 351.28L343.50 352.37L344.00 352.37L344.00 353.30L344.50 353.30L344.50 354.72L345.00 354.72L345.00 356.47L345.50 356.47L345.50 357.69L346.00 357.69L346.00 358.73L346.50 358.73L346.50 359.37L347.00 359.37L347.00 360.51L347.50 360.51L347.50 360.96L348.00 360.96L348.00 361.44L348.50 361.44L348.50 361.92L349.00 361.92L349.00 362.00Z" fill="#1a56ee"/>
<line x1="300.00" y1="362.20" x2="397.00" y2="362.20" stroke="#4559d2" stroke-width="1.15" />
<line x1="312.00" y1="363.00" x2="312.00" y2="435.30" stroke="#f93317" stroke-width="0.7" opacity="0.6"/>
<path d="M312.00 435.30L312.00 434.01L312.50 434.01L312.50 433.58L313.00 433.58L313.00 433.35L313.50 433.35L313.50 433.10L314.00 433.10L314.00 432.87L314.50 432.87L314.50 432.70L315.00 432.70L315.00 432.28L315.50 432.28L315.50 432.20L316.00 432.20L316.00 431.87L316.50 431.87L316.50 431.58L317.00 431.58L317.00 431.48L317.50 431.48L317.50 431.24L318.00 431.24L318.00 430.69L318.50 430.69L318.50 430.76L319.00 430.76L319.00 430.20L319.50 430.20L319.50 429.93L320.00 429.93L320.00 429.95L320.50 429.95L320.50 429.64L321.00 429.64L321.00 429.14L321.50 429.14L321.50 428.57L322.00 428.57L322.00 428.31L322.50 428.31L322.50 428.07L323.00 428.07L323.00 427.54L323.50 427.54L323.50 427.54L324.00 427.54L324.00 426.64L324.50 426.64L324.50 426.33L325.00 426.33L325.00 426.44L325.50 426.44L325.50 425.48L326.00 425.48L326.00 425.16L326.50 425.16L326.50 424.62L327.00 424.62L327.00 424.72L327.50 424.72L327.50 423.82L328.00 423.82L328.00 423.23L328.50 423.23L328.50 422.98L329.00 422.98L329.00 422.19L329.50 422.19L329.50 422.05L330.00 422.05L330.00 421.43L330.50 421.43L330.50 421.34L331.00 421.34L331.00 420.93L331.50 420.93L331.50 420.42L332.00 420.42L332.00 419.78L332.50 419.78L332.50 418.96L333.00 418.96L333.00 418.96L333.50 418.96L333.50 417.14L334.00 417.14L334.00 416.47L334.50 416.47L334.50 417.06L335.00 417.06L335.00 415.84L335.50 415.84L335.50 414.29L336.00 414.29L336.00 415.20L336.50 415.20L336.50 412.60L337.00 412.60L337.00 413.73L337.50 413.73L337.50 414.23L338.00 414.23L338.00 413.00L338.50 413.00L338.50 413.97L339.00 413.97L339.00 414.56L339.50 414.56L339.50 416.48L340.00 416.48L340.00 416.51L340.50 416.51L340.50 418.57L341.00 418.57L341.00 420.36L341.50 420.36L341.50 421.15L342.00 421.15L342.00 422.57L342.50 422.57L342.50 423.45L343.00 423.45L343.00 425.23L343.50 425.23L343.50 427.59L344.00 427.59L344.00 428.58L344.50 428.58L344.50 430.01L345.00 430.01L345.00 431.37L345.50 431.37L345.50 432.70L346.00 432.70L346.00 433.51L346.50 433.51L346.50 434.26L347.00 434.26L347.00 434.70L347.50 434.70L347.50 435.30Z" fill="#f93317"/>
<line x1="300.00" y1="435.30" x2="397.00" y2="435.30" stroke="#ea5548" stroke-width="1.1" />
<path d="M312.00 508.00L312.00 507.76L312.70 507.76L312.70 506.54L313.40 506.54L313.40 507.74L314.10 507.74L314.10 507.54L314.80 507.54L314.80 507.50L315.50 507.50L315.50 507.90L316.20 507.90L316.20 507.72L316.90 507.72L316.90 507.70L317.60 507.70L317.60 507.63L318.30 507.63L318.30 507.59L319.00 507.59L319.00 507.83L319.70 507.83L319.70 507.84L320.40 507.84L320.40 507.98L321.10 507.98L321.10 508.00L321.80 508.00L321.80 507.95L322.50 507.95L322.50 507.74L323.20 507.74L323.20 507.54L323.90 507.54L323.90 507.74L324.60 507.74L324.60 507.51L325.30 507.51L325.30 507.50L326.00 507.50L326.00 507.69L326.70 507.69L326.70 507.41L327.40 507.41L327.40 507.34L328.10 507.34L328.10 507.55L328.80 507.55L328.80 507.33L329.50 507.33L329.50 507.41L330.20 507.41L330.20 507.10L330.90 507.10L330.90 507.08L331.60 507.08L331.60 506.34L332.30 506.34L332.30 506.77L333.00 506.77L333.00 506.42L333.70 506.42L333.70 506.11L334.40 506.11L334.40 506.02L335.10 506.02L335.10 504.96L335.80 504.96L335.80 505.38L336.50 505.38L336.50 505.50L337.20 505.50L337.20 502.69L337.90 502.69L337.90 501.47L338.60 501.47L338.60 500.98L339.30 500.98L339.30 500.01L340.00 500.01L340.00 497.18L340.70 497.18L340.70 493.64L341.40 493.64L341.40 488.93L342.10 488.93L342.10 485.98L342.80 485.98L342.80 485.43L343.50 485.43L343.50 478.14L344.20 478.14L344.20 467.25L344.90 467.25L344.90 465.29L345.60 465.29L345.60 461.72L346.30 461.72L346.30 450.36L347.00 450.36L347.00 446.45L347.70 446.45L347.70 445.14L348.40 445.14L348.40 450.68L349.10 450.68L349.10 457.94L349.80 457.94L349.80 463.47L350.50 463.47L350.50 453.38L351.20 453.38L351.20 458.21L351.90 458.21L351.90 464.56L352.60 464.56L352.60 465.92L353.30 465.92L353.30 469.32L354.00 469.32L354.00 479.09L354.70 479.09L354.70 476.89L355.40 476.89L355.40 483.18L356.10 483.18L356.10 490.07L356.80 490.07L356.80 491.76L357.50 491.76L357.50 490.61L358.20 490.61L358.20 497.04L358.90 497.04L358.90 497.13L359.60 497.13L359.60 499.33L360.30 499.33L360.30 500.23L361.00 500.23L361.00 501.96L361.70 501.96L361.70 503.40L362.40 503.40L362.40 504.01L363.10 504.01L363.10 505.12L363.80 505.12L363.80 505.78L364.50 505.78L364.50 506.04L365.20 506.04L365.20 506.56L365.90 506.56L365.90 506.56L366.60 506.56L366.60 507.21L367.30 507.21L367.30 507.36L368.00 507.36L368.00 507.63L368.70 507.63L368.70 507.75L369.40 507.75L369.40 508.00Z" fill="#1a9029"/>
<line x1="300.00" y1="508.40" x2="397.00" y2="508.40" stroke="#58a05a" stroke-width="1.0" />
<line x1="426.70" y1="292.50" x2="426.70" y2="362.00" stroke="#1a56ee" stroke-width="0.55" opacity="0.55"/>
<path d="M426.70 362.00L426.70 358.43L427.20 358.43L427.20 358.43L427.70 358.43L427.70 357.11L428.20 357.11L428.20 357.77L428.70 357.77L428.70 357.88L429.20 357.88L429.20 357.79L429.70 357.79L429.70 356.57L430.20 356.57L430.20 357.60L430.70 357.60L430.70 357.43L431.20 357.43L431.20 356.46L431.70 356.46L431.70 356.34L432.20 356.34L432.20 357.37L432.70 357.37L432.70 357.18L433.20 357.18L433.20 357.74L433.70 357.74L433.70 357.27L434.20 357.27L434.20 356.81L434.70 356.81L434.70 356.10L435.20 356.10L435.20 355.38L435.70 355.38L435.70 353.89L436.20 353.89L436.20 356.43L436.70 356.43L436.70 353.42L437.20 353.42L437.20 355.75L437.70 355.75L437.70 354.39L438.20 354.39L438.20 355.77L438.70 355.77L438.70 353.73L439.20 353.73L439.20 355.75L439.70 355.75L439.70 354.59L440.20 354.59L440.20 354.45L440.70 354.45L440.70 351.48L441.20 351.48L441.20 354.29L441.70 354.29L441.70 352.32L442.20 352.32L442.20 351.61L442.70 351.61L442.70 350.74L443.20 350.74L443.20 353.30L443.70 353.30L443.70 351.33L444.20 351.33L444.20 351.35L444.70 351.35L444.70 350.89L445.20 350.89L445.20 352.79L445.70 352.79L445.70 351.62L446.20 351.62L446.20 351.82L446.70 351.82L446.70 351.54L447.20 351.54L447.20 351.36L447.70 351.36L447.70 354.23L448.20 354.23L448.20 352.60L448.70 352.60L448.70 351.84L449.20 351.84L449.20 353.76L449.70 353.76L449.70 351.95L450.20 351.95L450.20 353.28L450.70 353.28L450.70 355.98L451.20 355.98L451.20 353.78L451.70 353.78L451.70 355.35L452.20 355.35L452.20 355.56L452.70 355.56L452.70 355.21L453.20 355.21L453.20 356.10L453.70 356.10L453.70 357.57L454.20 357.57L454.20 358.51L454.70 358.51L454.70 358.76L455.20 358.76L455.20 360.00L455.70 360.00L455.70 360.27L456.20 360.27L456.20 360.86L456.70 360.86L456.70 361.50L457.20 361.50L457.20 362.00Z" fill="#1a56ee"/>
<line x1="414.70" y1="362.20" x2="511.70" y2="362.20" stroke="#4559d2" stroke-width="1.15" />
<line x1="426.70" y1="363.00" x2="426.70" y2="435.30" stroke="#f93317" stroke-width="0.5" opacity="0.45"/>
<path d="M426.70 435.30L426.70 433.39L427.20 433.39L427.20 432.68L427.70 432.68L427.70 432.23L428.20 432.23L428.20 432.27L428.70 432.27L428.70 431.79L429.20 431.79L429.20 430.96L429.70 430.96L429.70 431.25L430.20 431.25L430.20 430.05L430.70 430.05L430.70 430.97L431.20 430.97L431.20 430.85L431.70 430.85L431.70 429.15L432.20 429.15L432.20 429.19L432.70 429.19L432.70 428.61L433.20 428.61L433.20 428.81L433.70 428.81L433.70 428.43L434.20 428.43L434.20 428.42L434.70 428.42L434.70 428.14L435.20 428.14L435.20 427.92L435.70 427.92L435.70 428.84L436.20 428.84L436.20 427.16L436.70 427.16L436.70 427.42L437.20 427.42L437.20 426.71L437.70 426.71L437.70 427.27L438.20 427.27L438.20 427.57L438.70 427.57L438.70 427.35L439.20 427.35L439.20 426.24L439.70 426.24L439.70 427.54L440.20 427.54L440.20 427.59L440.70 427.59L440.70 425.41L441.20 425.41L441.20 425.00L441.70 425.00L441.70 427.05L442.20 427.05L442.20 425.26L442.70 425.26L442.70 424.34L443.20 424.34L443.20 425.82L443.70 425.82L443.70 425.04L444.20 425.04L444.20 426.29L444.70 426.29L444.70 426.29L445.20 426.29L445.20 425.75L445.70 425.75L445.70 425.77L446.20 425.77L446.20 426.09L446.70 426.09L446.70 424.48L447.20 424.48L447.20 424.56L447.70 424.56L447.70 426.21L448.20 426.21L448.20 424.51L448.70 424.51L448.70 424.88L449.20 424.88L449.20 425.22L449.70 425.22L449.70 425.88L450.20 425.88L450.20 426.68L450.70 426.68L450.70 426.35L451.20 426.35L451.20 427.96L451.70 427.96L451.70 426.81L452.20 426.81L452.20 428.15L452.70 428.15L452.70 428.91L453.20 428.91L453.20 429.26L453.70 429.26L453.70 429.80L454.20 429.80L454.20 430.22L454.70 430.22L454.70 431.09L455.20 431.09L455.20 431.74L455.70 431.74L455.70 432.49L456.20 432.49L456.20 433.36L456.70 433.36L456.70 434.07L457.20 434.07L457.20 435.30Z" fill="#f93317"/>
<line x1="414.70" y1="435.30" x2="511.70" y2="435.30" stroke="#ea5548" stroke-width="1.1" />
<line x1="426.70" y1="437.60" x2="426.70" y2="508.00" stroke="#1a9029" stroke-width="0.7" opacity="0.7"/>
<path d="M426.70 508.00L426.70 505.05L427.40 505.05L427.40 504.94L428.10 504.94L428.10 503.79L428.80 503.79L428.80 504.15L429.50 504.15L429.50 502.55L430.20 502.55L430.20 503.18L430.90 503.18L430.90 502.77L431.60 502.77L431.60 502.59L432.30 502.59L432.30 501.50L433.00 501.50L433.00 500.91L433.70 500.91L433.70 502.65L434.40 502.65L434.40 500.86L435.10 500.86L435.10 498.91L435.80 498.91L435.80 500.87L436.50 500.87L436.50 497.56L437.20 497.56L437.20 498.18L437.90 498.18L437.90 496.06L438.60 496.06L438.60 496.02L439.30 496.02L439.30 497.24L440.00 497.24L440.00 494.91L440.70 494.91L440.70 495.96L441.40 495.96L441.40 491.31L442.10 491.31L442.10 491.98L442.80 491.98L442.80 492.25L443.50 492.25L443.50 492.21L444.20 492.21L444.20 487.37L444.90 487.37L444.90 491.38L445.60 491.38L445.60 485.07L446.30 485.07L446.30 485.15L447.00 485.15L447.00 481.50L447.70 481.50L447.70 484.17L448.40 484.17L448.40 486.26L449.10 486.26L449.10 485.89L449.80 485.89L449.80 484.64L450.50 484.64L450.50 484.78L451.20 484.78L451.20 488.95L451.90 488.95L451.90 483.62L452.60 483.62L452.60 492.50L453.30 492.50L453.30 489.94L454.00 489.94L454.00 493.00L454.70 493.00L454.70 495.54L455.40 495.54L455.40 498.90L456.10 498.90L456.10 497.31L456.80 497.31L456.80 499.77L457.50 499.77L457.50 500.27L458.20 500.27L458.20 500.95L458.90 500.95L458.90 502.23L459.60 502.23L459.60 504.40L460.30 504.40L460.30 504.86L461.00 504.86L461.00 505.56L461.70 505.56L461.70 504.95L462.40 504.95L462.40 505.53L463.10 505.53L463.10 506.15L463.80 506.15L463.80 506.47L464.50 506.47L464.50 506.66L465.20 506.66L465.20 507.11L465.90 507.11L465.90 507.03L466.60 507.03L466.60 507.70L467.30 507.70L467.30 508.00Z" fill="#1a9029"/>
<line x1="414.70" y1="508.40" x2="511.70" y2="508.40" stroke="#58a05a" stroke-width="1.0" />
<text x="12.20" y="564.40" font-size="31" font-weight="bold" text-anchor="middle" fill="#000" >D</text>
<circle cx="85.4" cy="628.5" r="48.9" fill="#bdbdbd" stroke="#2a2a2a" stroke-width="1.1"/>
<path d="M85.60 626.30L85.60 576.80A49.5 49.5 0 0 1 90.69 577.06Z" fill="#9b2f55" stroke="#e9d6dc" stroke-width="0.7" stroke-linejoin="round"/>
<path d="M85.6 576.8A49.5 49.5 0 0 1 90.69 577.06" fill="none" stroke="#3a2028" stroke-width="0.9"/>
<line x1="85.60" y1="622.00" x2="85.60" y2="632.00" stroke="#e4e4e4" stroke-width="0.8" />
<text x="86.10" y="697.80" font-size="9.25" font-weight="bold" text-anchor="middle" fill="#000" >Normal donor T cells</text>
<circle cx="227.1" cy="629" r="50" fill="#9a9a9a" stroke="#2a2a2a" stroke-width="1.1"/>
<path d="M227.80 627.70L227.80 576.70A51 51 0 0 1 269.06 597.72Z" fill="#9b2f55" stroke="#fff" stroke-width="1.5" stroke-linejoin="round"/>
<path d="M227.8 576.7A51 51 0 0 1 269.06 597.72" fill="none" stroke="#2a2a2a" stroke-width="0.9"/>
<line x1="227.30" y1="576.40" x2="227.30" y2="627.00" stroke="#5f8227" stroke-width="0.8" />
<text x="229.90" y="700.00" font-size="9.3" font-weight="bold" text-anchor="middle" fill="#000" >Glioma patient PBMCs</text>
<path d="M369.70 625.90L412.12 652.93A50.3 50.3 0 1 1 369.70 575.60Z" fill="#c6c6c6" stroke="#2a2a2a" stroke-width="1.1" stroke-linejoin="round"/>
<path d="M372.60 624.40L372.60 574.10A50.3 50.3 0 0 1 378.73 574.47Z" fill="#2a8e78" stroke="#222" stroke-width="1.0" stroke-linejoin="round"/>
<path d="M372.60 624.40L378.73 574.47A50.3 50.3 0 0 1 402.52 583.97Z" fill="#5f8227" stroke="#222" stroke-width="1.0" stroke-linejoin="round"/>
<path d="M372.60 624.40L402.52 583.97A50.3 50.3 0 0 1 415.02 651.43Z" fill="#9b2f55" stroke="#222" stroke-width="1.0" stroke-linejoin="round"/>
<text x="373.30" y="698.00" font-size="9.3" font-weight="bold" text-anchor="middle" fill="#000" >Glioma patient TILs</text>
<text x="445.20" y="564.30" font-size="9.3" font-weight="bold" text-anchor="middle" fill="#000" ># Exhaustion markers expressed</text>
<rect x="442.90" y="575.80" width="11.80" height="6.00" fill="#d0d0d0" stroke="#222" stroke-width="0.9" />
<text x="459.50" y="582.10" font-size="8.8" font-weight="normal" text-anchor="start" fill="#a8431f" >0</text>
<rect x="442.90" y="585.60" width="11.80" height="6.00" fill="#9b2f55" stroke="#222" stroke-width="0.9" />
<text x="459.50" y="591.90" font-size="8.8" font-weight="normal" text-anchor="start" fill="#8e2a4c" >1</text>
<rect x="442.90" y="595.40" width="11.80" height="6.00" fill="#5f8227" stroke="#222" stroke-width="0.9" />
<text x="459.50" y="601.70" font-size="8.8" font-weight="normal" text-anchor="start" fill="#4d6d1f" >2</text>
<rect x="442.90" y="605.20" width="11.80" height="6.00" fill="#2a8e78" stroke="#222" stroke-width="0.9" />
<text x="459.50" y="611.50" font-size="8.8" font-weight="normal" text-anchor="start" fill="#2a7a78" >3</text>
<text x="12.30" y="740.90" font-size="31.3" font-weight="bold" text-anchor="middle" fill="#000" >E</text>
<line x1="102.90" y1="755.00" x2="102.90" y2="1112.00" stroke="#000" stroke-width="2.1" />
<line x1="101.90" y1="1111.00" x2="505.00" y2="1111.00" stroke="#000" stroke-width="2.1" />
<line x1="97.70" y1="1111.00" x2="103.00" y2="1111.00" stroke="#000" stroke-width="1.5" />
<text transform="translate(97.4,1114.60) scale(0.86,1)" font-size="10.2" font-weight="bold" text-anchor="end">0</text>
<line x1="97.70" y1="992.60" x2="103.00" y2="992.60" stroke="#000" stroke-width="1.5" />
<text transform="translate(97.4,996.20) scale(0.86,1)" font-size="10.2" font-weight="bold" text-anchor="end">5</text>
<line x1="97.70" y1="874.20" x2="103.00" y2="874.20" stroke="#000" stroke-width="1.5" />
<text transform="translate(97.4,877.80) scale(0.86,1)" font-size="10.2" font-weight="bold" text-anchor="end">10</text>
<line x1="97.70" y1="755.80" x2="103.00" y2="755.80" stroke="#000" stroke-width="1.5" />
<text transform="translate(97.4,759.40) scale(0.86,1)" font-size="10.2" font-weight="bold" text-anchor="end">15</text>
<text transform="translate(76.3,925.5) rotate(-90)" font-size="19" font-weight="normal" text-anchor="middle">Percentage of cells</text>
<line x1="114.80" y1="1111.00" x2="114.80" y2="1116.50" stroke="#000" stroke-width="1.8" />
<rect x="104.55" y="1095.61" width="7.00" height="14.59" fill="#0433ff" stroke="none" stroke-width="0" />
<line x1="108.05" y1="1088.50" x2="108.05" y2="1095.61" stroke="#0433ff" stroke-width="1.45" opacity="0.75"/>
<line x1="106.25" y1="1088.80" x2="109.85" y2="1088.80" stroke="#0433ff" stroke-width="1.2" />
<rect x="111.65" y="994.26" width="7.00" height="115.94" fill="#ff2600" stroke="none" stroke-width="0" />
<line x1="115.15" y1="954.71" x2="115.15" y2="994.26" stroke="#ff2600" stroke-width="1.45" opacity="0.75"/>
<line x1="113.35" y1="955.01" x2="116.95" y2="955.01" stroke="#ff2600" stroke-width="1.2" />
<rect x="118.75" y="808.61" width="7.00" height="301.59" fill="#008f00" stroke="none" stroke-width="0" />
<line x1="122.25" y1="765.27" x2="122.25" y2="808.61" stroke="#008f00" stroke-width="1.45" opacity="0.75"/>
<line x1="120.45" y1="765.57" x2="124.05" y2="765.57" stroke="#008f00" stroke-width="1.2" />
<line x1="141.70" y1="1111.00" x2="141.70" y2="1116.50" stroke="#000" stroke-width="1.8" />
<rect x="131.45" y="1107.45" width="7.00" height="2.75" fill="#0433ff" stroke="none" stroke-width="0" />
<line x1="134.95" y1="1105.08" x2="134.95" y2="1107.45" stroke="#0433ff" stroke-width="1.45" opacity="0.75"/>
<line x1="133.15" y1="1105.38" x2="136.75" y2="1105.38" stroke="#0433ff" stroke-width="1.2" />
<rect x="138.55" y="919.19" width="7.00" height="191.01" fill="#ff2600" stroke="none" stroke-width="0" />
<line x1="142.05" y1="854.07" x2="142.05" y2="919.19" stroke="#ff2600" stroke-width="1.45" opacity="0.75"/>
<line x1="140.25" y1="854.37" x2="143.85" y2="854.37" stroke="#ff2600" stroke-width="1.2" />
<rect x="145.65" y="937.19" width="7.00" height="173.01" fill="#008f00" stroke="none" stroke-width="0" />
<line x1="149.15" y1="871.83" x2="149.15" y2="937.19" stroke="#008f00" stroke-width="1.45" opacity="0.75"/>
<line x1="147.35" y1="872.13" x2="150.95" y2="872.13" stroke="#008f00" stroke-width="1.2" />
<line x1="168.60" y1="1111.00" x2="168.60" y2="1116.50" stroke="#000" stroke-width="1.8" />
<rect x="158.35" y="1097.98" width="7.00" height="12.22" fill="#0433ff" stroke="none" stroke-width="0" />
<line x1="161.85" y1="1090.87" x2="161.85" y2="1097.98" stroke="#0433ff" stroke-width="1.45" opacity="0.75"/>
<line x1="160.05" y1="1091.17" x2="163.65" y2="1091.17" stroke="#0433ff" stroke-width="1.2" />
<rect x="165.45" y="1103.90" width="7.00" height="6.30" fill="#ff2600" stroke="none" stroke-width="0" />
<line x1="168.95" y1="1101.05" x2="168.95" y2="1103.90" stroke="#ff2600" stroke-width="1.45" opacity="0.75"/>
<line x1="167.15" y1="1101.35" x2="170.75" y2="1101.35" stroke="#ff2600" stroke-width="1.2" />
<rect x="172.55" y="1060.09" width="7.00" height="50.11" fill="#008f00" stroke="none" stroke-width="0" />
<line x1="176.05" y1="1041.14" x2="176.05" y2="1060.09" stroke="#008f00" stroke-width="1.45" opacity="0.75"/>
<line x1="174.25" y1="1041.44" x2="177.85" y2="1041.44" stroke="#008f00" stroke-width="1.2" />
<line x1="195.50" y1="1111.00" x2="195.50" y2="1116.50" stroke="#000" stroke-width="1.8" />
<rect x="185.25" y="1106.26" width="7.00" height="3.94" fill="#0433ff" stroke="none" stroke-width="0" />
<line x1="188.75" y1="1103.90" x2="188.75" y2="1106.26" stroke="#0433ff" stroke-width="1.45" opacity="0.75"/>
<line x1="186.95" y1="1104.20" x2="190.55" y2="1104.20" stroke="#0433ff" stroke-width="1.2" />
<rect x="192.35" y="1106.74" width="7.00" height="3.46" fill="#ff2600" stroke="none" stroke-width="0" />
<line x1="195.85" y1="1104.37" x2="195.85" y2="1106.74" stroke="#ff2600" stroke-width="1.45" opacity="0.75"/>
<line x1="194.05" y1="1104.67" x2="197.65" y2="1104.67" stroke="#ff2600" stroke-width="1.2" />
<rect x="199.45" y="1076.66" width="7.00" height="33.54" fill="#008f00" stroke="none" stroke-width="0" />
<line x1="202.95" y1="1064.82" x2="202.95" y2="1076.66" stroke="#008f00" stroke-width="1.45" opacity="0.75"/>
<line x1="201.15" y1="1065.12" x2="204.75" y2="1065.12" stroke="#008f00" stroke-width="1.2" />
<line x1="222.40" y1="1111.00" x2="222.40" y2="1116.50" stroke="#000" stroke-width="1.8" />
<rect x="212.15" y="1110.29" width="7.00" height="-0.09" fill="#0433ff" stroke="none" stroke-width="0" />
<rect x="219.25" y="1109.82" width="7.00" height="0.38" fill="#ff2600" stroke="none" stroke-width="0" />
<line x1="222.75" y1="1108.87" x2="222.75" y2="1109.82" stroke="#ff2600" stroke-width="1.45" opacity="0.75"/>
<line x1="220.95" y1="1109.17" x2="224.55" y2="1109.17" stroke="#ff2600" stroke-width="1.2" />
<rect x="226.35" y="1081.40" width="7.00" height="28.80" fill="#008f00" stroke="none" stroke-width="0" />
<line x1="229.85" y1="1064.82" x2="229.85" y2="1081.40" stroke="#008f00" stroke-width="1.45" opacity="0.75"/>
<line x1="228.05" y1="1065.12" x2="231.65" y2="1065.12" stroke="#008f00" stroke-width="1.2" />
<line x1="249.30" y1="1111.00" x2="249.30" y2="1116.50" stroke="#000" stroke-width="1.8" />
<rect x="239.05" y="1110.29" width="7.00" height="-0.09" fill="#0433ff" stroke="none" stroke-width="0" />
<rect x="246.15" y="1096.79" width="7.00" height="13.41" fill="#ff2600" stroke="none" stroke-width="0" />
<line x1="249.65" y1="1089.69" x2="249.65" y2="1096.79" stroke="#ff2600" stroke-width="1.45" opacity="0.75"/>
<line x1="247.85" y1="1089.99" x2="251.45" y2="1089.99" stroke="#ff2600" stroke-width="1.2" />
<rect x="253.25" y="1012.02" width="7.00" height="98.18" fill="#008f00" stroke="none" stroke-width="0" />
<line x1="256.75" y1="971.29" x2="256.75" y2="1012.02" stroke="#008f00" stroke-width="1.45" opacity="0.75"/>
<line x1="254.95" y1="971.59" x2="258.55" y2="971.59" stroke="#008f00" stroke-width="1.2" />
<line x1="276.20" y1="1111.00" x2="276.20" y2="1116.50" stroke="#000" stroke-width="1.8" />
<rect x="273.05" y="1110.29" width="7.00" height="-0.09" fill="#ff2600" stroke="none" stroke-width="0" />
<rect x="280.15" y="1094.42" width="7.00" height="15.78" fill="#008f00" stroke="none" stroke-width="0" />
<line x1="283.65" y1="1088.50" x2="283.65" y2="1094.42" stroke="#008f00" stroke-width="1.45" opacity="0.75"/>
<line x1="281.85" y1="1088.80" x2="285.45" y2="1088.80" stroke="#008f00" stroke-width="1.2" />
<line x1="303.10" y1="1111.00" x2="303.10" y2="1116.50" stroke="#000" stroke-width="1.8" />
<rect x="299.95" y="1109.58" width="7.00" height="0.62" fill="#ff2600" stroke="none" stroke-width="0" />
<line x1="303.45" y1="1108.63" x2="303.45" y2="1109.58" stroke="#ff2600" stroke-width="1.45" opacity="0.75"/>
<line x1="301.65" y1="1108.93" x2="305.25" y2="1108.93" stroke="#ff2600" stroke-width="1.2" />
<rect x="307.05" y="1092.06" width="7.00" height="18.14" fill="#008f00" stroke="none" stroke-width="0" />
<line x1="310.55" y1="1080.22" x2="310.55" y2="1092.06" stroke="#008f00" stroke-width="1.45" opacity="0.75"/>
<line x1="308.75" y1="1080.52" x2="312.35" y2="1080.52" stroke="#008f00" stroke-width="1.2" />
<line x1="330.00" y1="1111.00" x2="330.00" y2="1116.50" stroke="#000" stroke-width="1.8" />
<rect x="326.85" y="1106.26" width="7.00" height="3.94" fill="#ff2600" stroke="none" stroke-width="0" />
<line x1="330.35" y1="1103.19" x2="330.35" y2="1106.26" stroke="#ff2600" stroke-width="1.45" opacity="0.75"/>
<line x1="328.55" y1="1103.49" x2="332.15" y2="1103.49" stroke="#ff2600" stroke-width="1.2" />
<line x1="356.90" y1="1111.00" x2="356.90" y2="1116.50" stroke="#000" stroke-width="1.8" />
<rect x="353.75" y="1110.29" width="7.00" height="-0.09" fill="#ff2600" stroke="none" stroke-width="0" />
<rect x="360.85" y="1092.77" width="7.00" height="17.43" fill="#008f00" stroke="none" stroke-width="0" />
<line x1="364.35" y1="1085.66" x2="364.35" y2="1092.77" stroke="#008f00" stroke-width="1.45" opacity="0.75"/>
<line x1="362.55" y1="1085.96" x2="366.15" y2="1085.96" stroke="#008f00" stroke-width="1.2" />
<line x1="383.80" y1="1111.00" x2="383.80" y2="1116.50" stroke="#000" stroke-width="1.8" />
<rect x="380.65" y="1110.29" width="7.00" height="-0.09" fill="#ff2600" stroke="none" stroke-width="0" />
<rect x="387.75" y="1077.85" width="7.00" height="32.35" fill="#008f00" stroke="none" stroke-width="0" />
<line x1="391.25" y1="1050.62" x2="391.25" y2="1077.85" stroke="#008f00" stroke-width="1.45" opacity="0.75"/>
<line x1="389.45" y1="1050.92" x2="393.05" y2="1050.92" stroke="#008f00" stroke-width="1.2" />
<line x1="410.70" y1="1111.00" x2="410.70" y2="1116.50" stroke="#000" stroke-width="1.8" />
<rect x="414.65" y="1109.11" width="7.00" height="1.09" fill="#008f00" stroke="none" stroke-width="0" />
<line x1="418.15" y1="1107.92" x2="418.15" y2="1109.11" stroke="#008f00" stroke-width="1.45" opacity="0.75"/>
<line x1="416.35" y1="1108.22" x2="419.95" y2="1108.22" stroke="#008f00" stroke-width="1.2" />
<line x1="437.60" y1="1111.00" x2="437.60" y2="1116.50" stroke="#000" stroke-width="1.8" />
<rect x="434.45" y="1110.29" width="7.00" height="-0.09" fill="#ff2600" stroke="none" stroke-width="0" />
<rect x="441.55" y="1096.79" width="7.00" height="13.41" fill="#008f00" stroke="none" stroke-width="0" />
<line x1="445.05" y1="1092.06" x2="445.05" y2="1096.79" stroke="#008f00" stroke-width="1.45" opacity="0.75"/>
<line x1="443.25" y1="1092.36" x2="446.85" y2="1092.36" stroke="#008f00" stroke-width="1.2" />
<line x1="464.50" y1="1111.00" x2="464.50" y2="1116.50" stroke="#000" stroke-width="1.8" />
<rect x="468.45" y="1109.58" width="7.00" height="0.62" fill="#008f00" stroke="none" stroke-width="0" />
<line x1="471.95" y1="1108.16" x2="471.95" y2="1109.58" stroke="#008f00" stroke-width="1.45" opacity="0.75"/>
<line x1="470.15" y1="1108.46" x2="473.75" y2="1108.46" stroke="#008f00" stroke-width="1.2" />
<line x1="491.40" y1="1111.00" x2="491.40" y2="1116.50" stroke="#000" stroke-width="1.8" />
<rect x="495.35" y="1106.97" width="7.00" height="3.23" fill="#008f00" stroke="none" stroke-width="0" />
<line x1="498.85" y1="1105.08" x2="498.85" y2="1106.97" stroke="#008f00" stroke-width="1.45" opacity="0.75"/>
<line x1="497.05" y1="1105.38" x2="500.65" y2="1105.38" stroke="#008f00" stroke-width="1.2" />
<text x="115.10" y="748.30" font-size="9.3" font-weight="bold" text-anchor="middle" fill="#000" textLength="14.8" lengthAdjust="spacing">****</text>
<line x1="107.30" y1="747.80" x2="122.70" y2="747.80" stroke="#333" stroke-width="0.7" />
<text x="118.40" y="761.30" font-size="9.3" font-weight="bold" text-anchor="middle" fill="#000" textLength="13.8" lengthAdjust="spacing">****</text>
<line x1="114.40" y1="759.80" x2="122.70" y2="759.80" stroke="#888" stroke-width="0.7" />
<text x="142.30" y="839.70" font-size="9.3" font-weight="bold" text-anchor="middle" fill="#000" textLength="14.4" lengthAdjust="spacing">****</text>
<line x1="135.20" y1="841.30" x2="150.20" y2="841.30" stroke="#333" stroke-width="0.7" />
<text x="139.70" y="851.30" font-size="9.3" font-weight="bold" text-anchor="middle" fill="#000" textLength="14.1" lengthAdjust="spacing">****</text>
<line x1="135.80" y1="850.50" x2="142.50" y2="850.50" stroke="#888" stroke-width="0.7" />
<text x="111.70" y="950.50" font-size="9.3" font-weight="bold" text-anchor="middle" fill="#000" textLength="6.4" lengthAdjust="spacing">**</text>
<line x1="108.20" y1="949.70" x2="114.80" y2="949.70" stroke="#333" stroke-width="0.7" />
<text x="251.40" y="955.20" font-size="9.3" font-weight="bold" text-anchor="middle" fill="#000" textLength="10.2" lengthAdjust="spacing">***</text>
<line x1="245.10" y1="955.20" x2="257.90" y2="955.20" stroke="#333" stroke-width="0.7" />
<text x="253.50" y="968.00" font-size="9.3" font-weight="bold" text-anchor="middle" fill="#000" textLength="6.2" lengthAdjust="spacing">**</text>
<line x1="249.70" y1="967.40" x2="257.50" y2="967.40" stroke="#333" stroke-width="0.7" />
<text x="83.30" y="1146.40" font-size="20.5" font-weight="normal" text-anchor="end" fill="#000" >PD-1</text>
<text x="83.30" y="1181.40" font-size="20.5" font-weight="normal" text-anchor="end" fill="#000" >TIM-3</text>
<text x="83.30" y="1216.30" font-size="20.5" font-weight="normal" text-anchor="end" fill="#000" >LAG-3</text>
<text x="83.30" y="1251.20" font-size="20.5" font-weight="normal" text-anchor="end" fill="#000" >CTLA-4</text>
<rect x="99.60" y="1129.40" width="109.20" height="129.20" fill="#fff" stroke="#7d7d7d" stroke-width="0.9" rx="1.8"/>
<rect x="212.30" y="1129.40" width="155.10" height="129.20" fill="#fff" stroke="#7d7d7d" stroke-width="0.9" rx="1.8"/>
<rect x="371.60" y="1129.40" width="106.50" height="129.20" fill="#fff" stroke="#7d7d7d" stroke-width="0.9" rx="1.8"/>
<rect x="481.60" y="1129.40" width="24.50" height="129.20" fill="#fff" stroke="#7d7d7d" stroke-width="0.9" rx="1.8"/>
<rect x="107.00" y="1132.95" width="16.60" height="16.90" fill="#dadada" stroke="none" stroke-width="0" />
<line x1="110.00" y1="1141.30" x2="120.60" y2="1141.30" stroke="#1a1a1a" stroke-width="1.4" />
<line x1="115.30" y1="1136.00" x2="115.30" y2="1146.60" stroke="#1a1a1a" stroke-width="1.4" />
<rect x="133.90" y="1167.95" width="16.60" height="16.90" fill="#dadada" stroke="none" stroke-width="0" />
<line x1="136.90" y1="1176.30" x2="147.50" y2="1176.30" stroke="#1a1a1a" stroke-width="1.4" />
<line x1="142.20" y1="1171.00" x2="142.20" y2="1181.60" stroke="#1a1a1a" stroke-width="1.4" />
<rect x="160.80" y="1202.85" width="16.60" height="16.90" fill="#dadada" stroke="none" stroke-width="0" />
<line x1="163.80" y1="1211.20" x2="174.40" y2="1211.20" stroke="#1a1a1a" stroke-width="1.4" />
<line x1="169.10" y1="1205.90" x2="169.10" y2="1216.50" stroke="#1a1a1a" stroke-width="1.4" />
<rect x="187.70" y="1237.75" width="16.60" height="16.90" fill="#dadada" stroke="none" stroke-width="0" />
<line x1="190.70" y1="1246.10" x2="201.30" y2="1246.10" stroke="#1a1a1a" stroke-width="1.4" />
<line x1="196.00" y1="1240.80" x2="196.00" y2="1251.40" stroke="#1a1a1a" stroke-width="1.4" />
<rect x="214.60" y="1132.95" width="16.60" height="16.90" fill="#dadada" stroke="none" stroke-width="0" />
<line x1="217.60" y1="1141.30" x2="228.20" y2="1141.30" stroke="#1a1a1a" stroke-width="1.4" />
<line x1="222.90" y1="1136.00" x2="222.90" y2="1146.60" stroke="#1a1a1a" stroke-width="1.4" />
<rect x="214.60" y="1202.85" width="16.60" height="16.90" fill="#dadada" stroke="none" stroke-width="0" />
<line x1="217.60" y1="1211.20" x2="228.20" y2="1211.20" stroke="#1a1a1a" stroke-width="1.4" />
<line x1="222.90" y1="1205.90" x2="222.90" y2="1216.50" stroke="#1a1a1a" stroke-width="1.4" />
<rect x="241.50" y="1132.95" width="16.60" height="16.90" fill="#dadada" stroke="none" stroke-width="0" />
<line x1="244.50" y1="1141.30" x2="255.10" y2="1141.30" stroke="#1a1a1a" stroke-width="1.4" />
<line x1="249.80" y1="1136.00" x2="249.80" y2="1146.60" stroke="#1a1a1a" stroke-width="1.4" />
<rect x="241.50" y="1167.95" width="16.60" height="16.90" fill="#dadada" stroke="none" stroke-width="0" />
<line x1="244.50" y1="1176.30" x2="255.10" y2="1176.30" stroke="#1a1a1a" stroke-width="1.4" />
<line x1="249.80" y1="1171.00" x2="249.80" y2="1181.60" stroke="#1a1a1a" stroke-width="1.4" />
<rect x="268.40" y="1132.95" width="16.60" height="16.90" fill="#dadada" stroke="none" stroke-width="0" />
<line x1="271.40" y1="1141.30" x2="282.00" y2="1141.30" stroke="#1a1a1a" stroke-width="1.4" />
<line x1="276.70" y1="1136.00" x2="276.70" y2="1146.60" stroke="#1a1a1a" stroke-width="1.4" />
<rect x="268.40" y="1237.75" width="16.60" height="16.90" fill="#dadada" stroke="none" stroke-width="0" />
<line x1="271.40" y1="1246.10" x2="282.00" y2="1246.10" stroke="#1a1a1a" stroke-width="1.4" />
<line x1="276.70" y1="1240.80" x2="276.70" y2="1251.40" stroke="#1a1a1a" stroke-width="1.4" />
<rect x="295.30" y="1167.95" width="16.60" height="16.90" fill="#dadada" stroke="none" stroke-width="0" />
<line x1="298.30" y1="1176.30" x2="308.90" y2="1176.30" stroke="#1a1a1a" stroke-width="1.4" />
<line x1="303.60" y1="1171.00" x2="303.60" y2="1181.60" stroke="#1a1a1a" stroke-width="1.4" />
<rect x="295.30" y="1202.85" width="16.60" height="16.90" fill="#dadada" stroke="none" stroke-width="0" />
<line x1="298.30" y1="1211.20" x2="308.90" y2="1211.20" stroke="#1a1a1a" stroke-width="1.4" />
<line x1="303.60" y1="1205.90" x2="303.60" y2="1216.50" stroke="#1a1a1a" stroke-width="1.4" />
<rect x="322.20" y="1202.85" width="16.60" height="16.90" fill="#dadada" stroke="none" stroke-width="0" />
<line x1="325.20" y1="1211.20" x2="335.80" y2="1211.20" stroke="#1a1a1a" stroke-width="1.4" />
<line x1="330.50" y1="1205.90" x2="330.50" y2="1216.50" stroke="#1a1a1a" stroke-width="1.4" />
<rect x="322.20" y="1237.75" width="16.60" height="16.90" fill="#dadada" stroke="none" stroke-width="0" />
<line x1="325.20" y1="1246.10" x2="335.80" y2="1246.10" stroke="#1a1a1a" stroke-width="1.4" />
<line x1="330.50" y1="1240.80" x2="330.50" y2="1251.40" stroke="#1a1a1a" stroke-width="1.4" />
<rect x="349.10" y="1167.95" width="16.60" height="16.90" fill="#dadada" stroke="none" stroke-width="0" />
<line x1="352.10" y1="1176.30" x2="362.70" y2="1176.30" stroke="#1a1a1a" stroke-width="1.4" />
<line x1="357.40" y1="1171.00" x2="357.40" y2="1181.60" stroke="#1a1a1a" stroke-width="1.4" />
<rect x="349.10" y="1237.75" width="16.60" height="16.90" fill="#dadada" stroke="none" stroke-width="0" />
<line x1="352.10" y1="1246.10" x2="362.70" y2="1246.10" stroke="#1a1a1a" stroke-width="1.4" />
<line x1="357.40" y1="1240.80" x2="357.40" y2="1251.40" stroke="#1a1a1a" stroke-width="1.4" />
<rect x="376.00" y="1132.95" width="16.60" height="16.90" fill="#dadada" stroke="none" stroke-width="0" />
<line x1="379.00" y1="1141.30" x2="389.60" y2="1141.30" stroke="#1a1a1a" stroke-width="1.4" />
<line x1="384.30" y1="1136.00" x2="384.30" y2="1146.60" stroke="#1a1a1a" stroke-width="1.4" />
<rect x="376.00" y="1167.95" width="16.60" height="16.90" fill="#dadada" stroke="none" stroke-width="0" />
<line x1="379.00" y1="1176.30" x2="389.60" y2="1176.30" stroke="#1a1a1a" stroke-width="1.4" />
<line x1="384.30" y1="1171.00" x2="384.30" y2="1181.60" stroke="#1a1a1a" stroke-width="1.4" />
<rect x="376.00" y="1202.85" width="16.60" height="16.90" fill="#dadada" stroke="none" stroke-width="0" />
<line x1="379.00" y1="1211.20" x2="389.60" y2="1211.20" stroke="#1a1a1a" stroke-width="1.4" />
<line x1="384.30" y1="1205.90" x2="384.30" y2="1216.50" stroke="#1a1a1a" stroke-width="1.4" />
<rect x="402.90" y="1132.95" width="16.60" height="16.90" fill="#dadada" stroke="none" stroke-width="0" />
<line x1="405.90" y1="1141.30" x2="416.50" y2="1141.30" stroke="#1a1a1a" stroke-width="1.4" />
<line x1="411.20" y1="1136.00" x2="411.20" y2="1146.60" stroke="#1a1a1a" stroke-width="1.4" />
<rect x="402.90" y="1202.85" width="16.60" height="16.90" fill="#dadada" stroke="none" stroke-width="0" />
<line x1="405.90" y1="1211.20" x2="416.50" y2="1211.20" stroke="#1a1a1a" stroke-width="1.4" />
<line x1="411.20" y1="1205.90" x2="411.20" y2="1216.50" stroke="#1a1a1a" stroke-width="1.4" />
<rect x="402.90" y="1237.75" width="16.60" height="16.90" fill="#dadada" stroke="none" stroke-width="0" />
<line x1="405.90" y1="1246.10" x2="416.50" y2="1246.10" stroke="#1a1a1a" stroke-width="1.4" />
<line x1="411.20" y1="1240.80" x2="411.20" y2="1251.40" stroke="#1a1a1a" stroke-width="1.4" />
<rect x="429.80" y="1132.95" width="16.60" height="16.90" fill="#dadada" stroke="none" stroke-width="0" />
<line x1="432.80" y1="1141.30" x2="443.40" y2="1141.30" stroke="#1a1a1a" stroke-width="1.4" />
<line x1="438.10" y1="1136.00" x2="438.10" y2="1146.60" stroke="#1a1a1a" stroke-width="1.4" />
<rect x="429.80" y="1167.95" width="16.60" height="16.90" fill="#dadada" stroke="none" stroke-width="0" />
<line x1="432.80" y1="1176.30" x2="443.40" y2="1176.30" stroke="#1a1a1a" stroke-width="1.4" />
<line x1="438.10" y1="1171.00" x2="438.10" y2="1181.60" stroke="#1a1a1a" stroke-width="1.4" />
<rect x="429.80" y="1237.75" width="16.60" height="16.90" fill="#dadada" stroke="none" stroke-width="0" />
<line x1="432.80" y1="1246.10" x2="443.40" y2="1246.10" stroke="#1a1a1a" stroke-width="1.4" />
<line x1="438.10" y1="1240.80" x2="438.10" y2="1251.40" stroke="#1a1a1a" stroke-width="1.4" />
<rect x="456.70" y="1167.95" width="16.60" height="16.90" fill="#dadada" stroke="none" stroke-width="0" />
<line x1="459.70" y1="1176.30" x2="470.30" y2="1176.30" stroke="#1a1a1a" stroke-width="1.4" />
<line x1="465.00" y1="1171.00" x2="465.00" y2="1181.60" stroke="#1a1a1a" stroke-width="1.4" />
<rect x="456.70" y="1202.85" width="16.60" height="16.90" fill="#dadada" stroke="none" stroke-width="0" />
<line x1="459.70" y1="1211.20" x2="470.30" y2="1211.20" stroke="#1a1a1a" stroke-width="1.4" />
<line x1="465.00" y1="1205.90" x2="465.00" y2="1216.50" stroke="#1a1a1a" stroke-width="1.4" />
<rect x="456.70" y="1237.75" width="16.60" height="16.90" fill="#dadada" stroke="none" stroke-width="0" />
<line x1="459.70" y1="1246.10" x2="470.30" y2="1246.10" stroke="#1a1a1a" stroke-width="1.4" />
<line x1="465.00" y1="1240.80" x2="465.00" y2="1251.40" stroke="#1a1a1a" stroke-width="1.4" />
<rect x="483.60" y="1132.95" width="16.60" height="16.90" fill="#dadada" stroke="none" stroke-width="0" />
<line x1="486.60" y1="1141.30" x2="497.20" y2="1141.30" stroke="#1a1a1a" stroke-width="1.4" />
<line x1="491.90" y1="1136.00" x2="491.90" y2="1146.60" stroke="#1a1a1a" stroke-width="1.4" />
<rect x="483.60" y="1167.95" width="16.60" height="16.90" fill="#dadada" stroke="none" stroke-width="0" />
<line x1="486.60" y1="1176.30" x2="497.20" y2="1176.30" stroke="#1a1a1a" stroke-width="1.4" />
<line x1="491.90" y1="1171.00" x2="491.90" y2="1181.60" stroke="#1a1a1a" stroke-width="1.4" />
<rect x="483.60" y="1202.85" width="16.60" height="16.90" fill="#dadada" stroke="none" stroke-width="0" />
<line x1="486.60" y1="1211.20" x2="497.20" y2="1211.20" stroke="#1a1a1a" stroke-width="1.4" />
<line x1="491.90" y1="1205.90" x2="491.90" y2="1216.50" stroke="#1a1a1a" stroke-width="1.4" />
<rect x="483.60" y="1237.75" width="16.60" height="16.90" fill="#dadada" stroke="none" stroke-width="0" />
<line x1="486.60" y1="1246.10" x2="497.20" y2="1246.10" stroke="#1a1a1a" stroke-width="1.4" />
<line x1="491.90" y1="1240.80" x2="491.90" y2="1251.40" stroke="#1a1a1a" stroke-width="1.4" />
<rect x="122.20" y="1269.00" width="16.20" height="8.60" fill="#0433ff" stroke="none" stroke-width="0" />
<text x="142.20" y="1276.60" font-size="10.35" font-weight="normal" text-anchor="start" fill="#0433ff" >Healthy donor PBMCs</text>
<rect x="248.60" y="1269.00" width="17.20" height="8.60" fill="#ff2600" stroke="none" stroke-width="0" />
<text x="269.20" y="1276.60" font-size="10.35" font-weight="normal" text-anchor="start" fill="#ff2600" >Glioma patient PBMCs</text>
<rect x="377.80" y="1269.00" width="17.30" height="8.60" fill="#008f00" stroke="none" stroke-width="0" />
<text x="399.20" y="1276.60" font-size="10.35" font-weight="normal" text-anchor="start" fill="#008f00" >Glioma patient TILs</text>
</svg>
</body></html>
